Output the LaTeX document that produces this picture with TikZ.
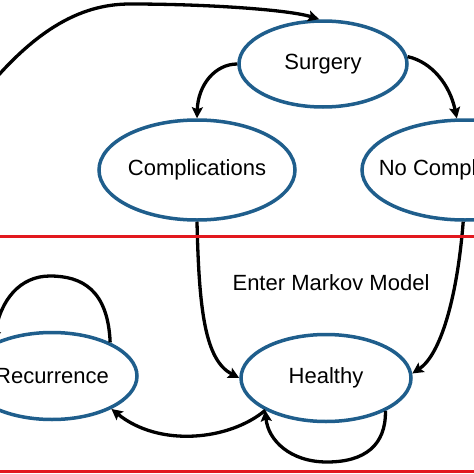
\documentclass[tikz,border=0pt]{standalone}
\usepackage{fontspec}
\setmainfont{Liberation Sans}
\usetikzlibrary{shapes.geometric,arrows.meta}
\definecolor{ebord}{RGB}{31,94,140}
\definecolor{redline}{RGB}{226,24,30}
\begin{document}
\begin{tikzpicture}[x=1pt,y=-1pt,
  state/.style={ellipse,draw=ebord,line width=3.5pt,inner sep=0pt,fill=white,
    font=\fontsize{22}{26}\selectfont},
  link/.style={draw=black,line width=3.3pt,-{Stealth[length=11pt,width=11pt,inset=2pt]}},
  sep/.style={draw=redline,line width=3pt},
  lbl/.style={font=\fontsize{22}{26}\selectfont}]
\useasboundingbox (0,0) rectangle (474,474);
\fill[white] (0,0) rectangle (474,474);
% nodes
\node[state,minimum width=168pt,minimum height=86pt] (surg) at (323,64) {\makebox[0pt]{Surgery}};
\node[state,minimum width=196pt,minimum height=100pt] (comp) at (197,170) {\makebox[0pt]{Complications}};
\node[state,minimum width=206pt,minimum height=100pt] (nocomp) at (465,170) {\makebox[0pt]{No Complications}};
\node[state,minimum width=170pt,minimum height=87pt] (rec) at (52,376) {\makebox[0pt]{Recurrence}};
\node[state,minimum width=170pt,minimum height=87pt] (hea) at (326,378) {\makebox[0pt]{Healthy}};
\node[lbl] (mk) at (331,283) {Enter Markov Model};
\coordinate (in) at (-30,110);
% connectors
\draw[link] (in) .. controls (30,30) and (80,4) .. (130,4) .. controls (210,4) and (290,10) .. (surg.95);
\draw[link] (surg.180) .. controls (215,64) and (198,85) .. (comp.90);
\draw[link] (surg.5) .. controls (432,62) and (450,85) .. (nocomp.99);
\draw[link] (comp.270) .. controls (199,310) and (205,360) .. (hea.180);
\draw[link] (nocomp.268) .. controls (457,300) and (440,355) .. (hea.3);
\draw[link] (hea.208) .. controls (230,440) and (160,448) .. (rec.331);
\draw[link] (hea.331) .. controls (386,445) and (365,462) .. (327,462) .. controls (290,462) and (268,440) .. (hea.208);
\draw[link] (rec.30) .. controls (108,290) and (82,276) .. (50,276) .. controls (20,276) and (0,300) .. (rec.150);
% separators
\draw[sep] (0,236) -- (474,236);
\draw[sep] (0,471) -- (474,471);
\end{tikzpicture}
\end{document}
